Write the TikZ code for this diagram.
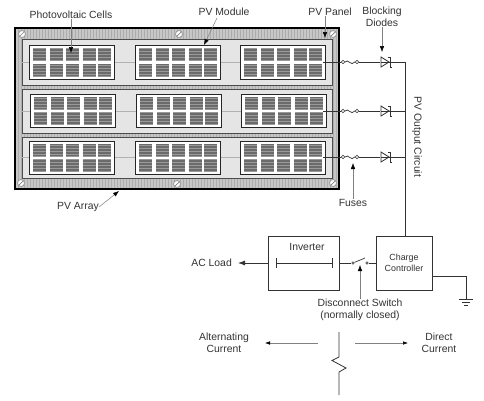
\documentclass[tikz,border=0pt]{standalone}
\usepackage{fontspec}
\setmainfont{Liberation Sans}
\usetikzlibrary{arrows.meta}
\definecolor{ink}{gray}{0.2}
\definecolor{thinc}{gray}{0.5}
\definecolor{cellbg}{gray}{0.6}
\definecolor{cellst}{gray}{0.42}
\tikzset{
  x=1pt,y=-1pt,
  lbl/.style={inner sep=0pt,font=\fontsize{10.4}{12.2}\selectfont,text=ink,align=center},
  smalllbl/.style={inner sep=0pt,font=\fontsize{8.9}{10.5}\selectfont,text=ink,align=center},
  wire/.style={draw=ink,line width=0.8pt},
  thinwire/.style={draw=gray!60,line width=0.5pt},
  callout/.style={draw=thinc,line width=0.5pt,-{Latex[length=6pt,width=4.5pt,black]}},
  flow/.style={draw=thinc,line width=0.5pt,-{Latex[length=5pt,width=3.5pt,black]}},
  blockbox/.style={draw=ink,line width=0.9pt,fill=white,inner sep=0pt,anchor=north west},
  panelbox/.style={draw=black!70,line width=0.7pt,fill=black!10},
  modbox/.style={draw=black!85,line width=0.8pt,fill=white},
  cellline/.style={draw=cellst,line width=0.6pt},
  screw/.style={circle,draw=gray!80,line width=0.8pt,fill=white,minimum size=7pt,inner sep=0pt},
  screwbar/.style={draw=gray,line width=0.7pt},
  termc/.style={circle,draw=ink,line width=0.6pt,fill=white,minimum size=3.6pt,inner sep=0pt},
}
\newcommand{\cellat}[2]{%
  \fill[cellbg] (#1,#2) rectangle ++(13,13);
  \foreach \k in {1,2.5,...,12.5}{\draw[cellline] (#1,#2+\k) -- (#1+13,#2+\k);}
}
\newcommand{\modat}[2]{% x,y of top-left
  \draw[modbox] (#1,#2) rectangle (#1+85,#2+33.5);
  \foreach \cx in {4,21,37,53.5,69}{
    \cellat{#1+\cx}{#2+2.5}
    \cellat{#1+\cx}{#2+18}
  }
}
\begin{document}
\begin{tikzpicture}
\useasboundingbox (0,0) rectangle (484,400);
\fill[white] (0,0) rectangle (484,400);

% frame
\draw[draw=black,line width=1.6pt,fill=black!22] (15,28) rectangle (339,189);
\foreach \vx in {18,21,...,337}{\draw[black!32,line width=0.6pt] (\vx,29) -- (\vx,188);}
% panels
\draw[panelbox] (22,39) rectangle (332,85);
\draw[panelbox] (22,89) rectangle (332,133);
\draw[panelbox] (22,137) rectangle (332,178);
% thin string lines
\foreach \ry in {62,111,157}{\draw[thinwire] (22,\ry) -- (332,\ry);}
% modules
\modat{29}{45.5}\modat{135}{45.5}\modat{240}{45.5}
\modat{30}{94}\modat{136}{94}\modat{241}{94}
\modat{29}{141}\modat{135}{141}\modat{240}{141}
% screws
\foreach \sx/\sy in {22/34,179/34,333/34,21/183,177/184,333/183}{
  \node[screw] at (\sx,\sy) {};
  \draw[screwbar] (\sx-2,\sy+2) -- (\sx+2,\sy-2);
}

% bus and strings
\coordinate (busTop) at (405,62);
\foreach \nm/\ry in {a/62,b/111,c/157}{
  \coordinate (src\nm) at (323,\ry);
  \coordinate (dst\nm) at (405,\ry);
  \node[termc] (fl\nm) at (343,\ry) {};
  \node[termc] (fr\nm) at (357,\ry) {};
  \draw[wire] (src\nm) -- (fl\nm);
  \draw[wire,line width=0.7pt] (fl\nm.east) .. controls (348,\ry-4) and (351,\ry+5) .. (fr\nm.west);
  \coordinate (dl\nm) at (380,\ry);
  \coordinate (dr\nm) at (390,\ry);
  \draw[wire] (fr\nm) -- (dl\nm);
  \draw[wire] (dr\nm) -- (dst\nm);
  \draw[draw=ink,line width=0.8pt] (381,\ry-5) -- (389,\ry) -- (381,\ry+5) -- cycle;
  \draw[draw=ink,line width=0.8pt] (388,\ry-5) -- (390,\ry-5) -- (390,\ry+5) -- (392,\ry+5);
  \draw[draw=ink,line width=0.8pt] (381,\ry) -- (dr\nm);
}

% blocks
\node[blockbox,minimum width=71pt,minimum height=54pt] (inv) at (268,236) {};
\node[blockbox,minimum width=56pt,minimum height=54pt] (cc) at (376,236) {};
\draw[wire] (busTop) -- (cc.north -| busTop);
\node[lbl] (invt) at (307,247) {Inverter};
\node[smalllbl] (cct) at (404,263) {Charge\\Controller};

% inverter inner
\coordinate (il) at (276,263);
\coordinate (ir) at (332,263);
\draw[wire] (il) -- (ir);
\draw[wire] (276,258) -- (276,268);
\draw[wire] (332,258) -- (332,268);

% switch
\node[termc,minimum size=2.6pt] (swl) at (353,263) {};
\node[termc,minimum size=2.6pt] (swr) at (367,263) {};
\draw[wire] (inv.east |- swl) -- (swl);
\draw[wire] (swr) -- (cc.west |- swr);
\draw[wire,line width=0.7pt] (swl) -- (365,258);

% AC load
\node[lbl,anchor=east] (acl) at (232,263) {AC Load};
\coordinate (acend) at (238,263);
\draw[wire,-{Latex[length=7pt,width=5pt]}] (inv.west |- acend) -- (acend);

% ground
\coordinate (gtop) at (466,276);
\coordinate (gbot) at (466,299);
\draw[wire] (cc.east |- gtop) -- (gtop) -- (gbot);
\draw[wire] (459,299) -- (473,299);
\draw[wire,line width=0.6pt] (462,302) -- (470,302);
\draw[wire,line width=0.6pt] (464,305) -- (468,305);

% top labels
\node[lbl] (pc) at (71,15) {Photovoltaic Cells};
\coordinate (pcend) at (71,53);
\draw[callout] (pc.south -| pcend) -- (pcend);
\node[lbl] (pm) at (224,12) {PV Module};
\coordinate (pmend) at (204,45);
\draw[callout] (217,18) -- (pmend);
\node[lbl] (pp) at (330,12) {PV Panel};
\coordinate (ppend) at (325,38);
\draw[callout] (pp.south -| ppend) -- (ppend);
\node[lbl] (bd) at (382,17) {Blocking\\Diodes};
\coordinate (bdend) at (382,52);
\draw[callout] (bd.south) -- (bdend);
\node[lbl,rotate=-90] (po) at (417,137) {PV Output Circuit};
\node[lbl] (fu) at (353,203) {Fuses};
\coordinate (fuend) at (353,163);
\draw[callout] (fu.north) -- (fuend);
\node[lbl] (pa) at (78,207) {PV Array};
\coordinate (paend) at (119,191);
\draw[callout] (pa.east) -- (paend);

% disconnect
\node[lbl] (ds) at (360,310) {Disconnect Switch\\(normally closed)};
\coordinate (dsend) at (360,265);
\draw[callout] (ds.north) -- (dsend);

% legend
\node[lbl] (alt) at (224,343) {Alternating\\Current};
\node[lbl] (dir) at (439,343) {Direct\\Current};
\coordinate (ma) at (318,343);
\coordinate (mb) at (355,343);
\coordinate (mae) at (265,343);
\coordinate (mbe) at (408,343);
\draw[flow] (ma) -- (mae);
\draw[flow] (mb) -- (mbe);
\draw[wire] (339,332) -- (339,357) -- (332,360.5) -- (346,368) -- (339,372) -- (339,395);
\end{tikzpicture}
\end{document}
